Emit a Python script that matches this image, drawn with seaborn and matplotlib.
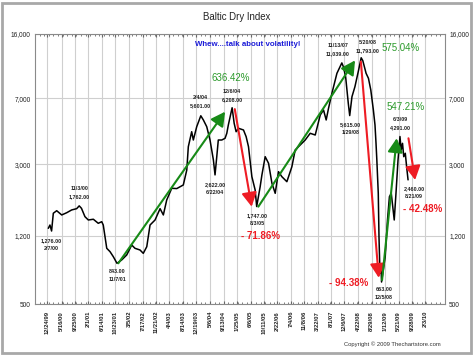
import pandas as pd
import matplotlib.pyplot as plt
import matplotlib.dates as mdates
import matplotlib.ticker as mticker
from matplotlib.patches import Rectangle
import seaborn as sns

# 1. DATA
dates = ['2000-01-06', '2000-01-22', '2000-02-07', '2000-02-24', '2000-03-28', '2000-05-16',
         '2000-07-04', '2000-08-21', '2000-10-09', '2000-11-03', '2000-11-25', '2000-12-29',
         '2001-01-31', '2001-03-21', '2001-05-08', '2001-06-11', '2001-06-26', '2001-07-13',
         '2001-07-30', '2001-08-31', '2001-10-02', '2001-11-07', '2001-12-23', '2002-02-10',
         '2002-03-31', '2002-05-02', '2002-06-20', '2002-07-22', '2002-08-25', '2002-09-26',
         '2002-11-14', '2003-01-02', '2003-02-03', '2003-03-08', '2003-04-26', '2003-06-14',
         '2003-08-17', '2003-09-20', '2003-10-05', '2003-11-07', '2003-11-23', '2003-12-26',
         '2004-02-04', '2004-02-29', '2004-04-02', '2004-05-04', '2004-06-06', '2004-06-22',
         '2004-07-09', '2004-07-24', '2004-08-27', '2004-09-28', '2004-10-15', '2004-10-30',
         '2004-12-06', '2004-12-26', '2005-01-14', '2005-02-06', '2005-03-27', '2005-04-22',
         '2005-05-15', '2005-06-17', '2005-07-19', '2005-08-03', '2005-09-06', '2005-09-23',
         '2005-10-25', '2005-11-27', '2005-12-30', '2006-01-31', '2006-03-04', '2006-04-06',
         '2006-05-25', '2006-07-13', '2006-08-14', '2006-10-02', '2006-11-20', '2007-01-08',
         '2007-02-26', '2007-04-16', '2007-05-18', '2007-06-13', '2007-07-06', '2007-08-08',
         '2007-09-26', '2007-11-13', '2007-11-28', '2007-12-20', '2008-01-15', '2008-01-29',
         '2008-02-20', '2008-03-20', '2008-04-25', '2008-05-20', '2008-06-05', '2008-07-07',
         '2008-07-30', '2008-08-22', '2008-09-16', '2008-10-02', '2008-10-12', '2008-10-20',
         '2008-11-03', '2008-11-10', '2008-11-17', '2008-11-22', '2008-11-27', '2008-12-01',
         '2008-12-05', '2009-01-10', '2009-02-01', '2009-02-20', '2009-03-10', '2009-04-08',
         '2009-04-25', '2009-05-15', '2009-06-03', '2009-06-15', '2009-06-28', '2009-07-10',
         '2009-07-25', '2009-08-07', '2009-08-21']
values = [1321, 1378, 1276, 1603, 1656, 1568,
          1614, 1672, 1700, 1762, 1708, 1534,
          1470, 1484, 1409, 1438, 1378, 1187,
          1022, 979, 918, 843, 880, 938,
          1066, 1022, 1000, 958, 1043, 1378,
          1470, 1700, 1568, 1901, 2208, 2200,
          2304, 2792, 3765, 4565, 4104, 4867,
          5601, 5307, 4867, 4104, 3176, 2622,
          3313, 4104, 4104, 4195, 4473, 4976,
          6208, 5085, 4565, 4770, 4667, 4283,
          3765, 2563, 2161, 1747, 2254, 2619,
          3313, 3043, 2355, 2070, 2733, 2563,
          2403, 2914, 3610, 3848, 4104, 4473,
          4376, 5656, 6034, 5307, 6165, 7474,
          9658, 11039, 10515, 9248, 6574, 5615,
          7154, 8137, 10085, 11793, 11357, 9658,
          9061, 7798, 6034, 4976, 3933, 3176,
          2070, 1187, 843, 807, 742, 774,
          663, 918, 1470, 1983, 2070, 1470,
          2070, 3176, 4291, 3610, 3933, 3313,
          3461, 2914, 2460]

tick_dates = ['1999-12-24', '2000-05-16', '2000-09-25', '2001-02-01', '2001-06-14', '2001-10-23',
              '2002-03-05', '2002-07-17', '2002-11-21', '2003-04-04', '2003-08-14', '2003-12-19',
              '2004-05-06', '2004-09-13', '2005-01-25', '2005-06-06', '2005-10-11', '2006-02-22',
              '2006-07-04', '2006-11-08', '2007-03-22', '2007-08-01', '2007-12-06', '2008-04-22',
              '2008-08-29', '2009-01-12', '2009-05-21', '2009-09-28', '2010-02-03']
tick_labels = ['12/24/99', '5/16/00', '9/25/00', '2/1/01', '6/14/01', '10/23/01',
               '3/5/02', '7/17/02', '11/21/02', '4/4/03', '8/14/03', '12/19/03',
               '5/6/04', '9/13/04', '1/25/05', '6/6/05', '10/11/05', '2/22/06',
               '7/4/06', '11/8/06', '3/22/07', '8/1/07', '12/6/07', '4/22/08',
               '8/29/08', '1/12/09', '5/21/09', '9/28/09', '2/3/10']
y_ticks = [500, 1200, 3000, 7000, 16000]

# arrows: start / end of each move
arrow_from_dates = ['2001-11-20', '2005-01-01', '2005-08-19', '2008-05-17', '2008-12-10', '2009-08-25']
arrow_from_values = [843, 6100, 1744, 11220, 680, 4195]
arrow_to_dates = ['2004-09-28', '2005-06-15', '2008-03-21', '2008-11-08', '2009-05-02', '2009-10-29']
arrow_to_values = [5900, 1744, 11400, 700, 4195, 2457]
arrow_kinds = ['up', 'down', 'up', 'down', 'up', 'down']

pct_labels = ['636.42%', '- 71.86%', '575.04%', '- 94.38%', '547.21%', '- 42.48%']
point_labels = ['1,276.00\n2/7/00', '11/3/00\n1,762.00', '843.00\n11/7/01', '2/4/04\n5,601.00',
                '12/6/04\n6,208.00', '2,622.00\n6/22/04', '1,747.00\n8/3/05', '11/13/07\n11,039.00',
                '5/20/08\n11,793.00', '5,615.00\n1/29/08', '6/3/09\n4,291.00', '2,460.00\n8/21/09',
                '663.00\n12/5/08']

# layout (pixel centres in the 474x355 picture)
pct_xy = [(231, 78), (260.5, 236), (401, 48), (349, 283), (406, 107), (422.5, 209)]
point_xy = [(51.7, 244.7), (79.3, 192.3), (117.3, 275.8), (200, 101.5), (232, 95.5),
            (215, 188.3), (257.3, 219.2), (338, 49.7), (367.3, 46.3), (350.7, 128.3),
            (400.7, 123.7), (414, 192.5), (384, 293.3)]

GREEN_TXT = '#2b9a2b'
GREEN = '#178a17'
RED = '#ee1c24'
BLUE = '#1c1cd8'

W, H = 474, 355


def fxy(x, y):
    return x / W, 1 - y / H


# 2. STYLE
sns.set_style('white')
plt.rcParams['font.family'] = ['Liberation Sans', 'DejaVu Sans']

df = pd.DataFrame({'Date': pd.to_datetime(dates), 'BDI': values})

fig = plt.figure(figsize=(4.74, 3.55), dpi=100)
ax = fig.add_axes([35 / W, 1 - 304 / H, 410 / W, 270 / H])

sns.lineplot(data=df, x='Date', y='BDI', color='black', lw=1.1, ax=ax)

# 3. AXES
ax.set_yscale('log')
ax.set_ylim(500, 16000)
ax.set_xlim(pd.Timestamp('1999-08-29'), pd.Timestamp('2010-08-17'))
ax.yaxis.set_major_locator(mticker.FixedLocator(y_ticks))
ax.yaxis.set_minor_locator(mticker.NullLocator())
ax.yaxis.set_major_formatter(mticker.FuncFormatter(lambda v, p: f'{int(v):,}'))
ax.xaxis.set_major_locator(mticker.FixedLocator(mdates.date2num(pd.to_datetime(tick_dates))))
ax.xaxis.set_major_formatter(mticker.FixedFormatter(tick_labels))
ax.xaxis.set_minor_locator(mdates.DayLocator(interval=45))
ax.set_xlabel('')
ax.set_ylabel('')

ax.grid(True, which='major', color='#cfcfcf', lw=0.8)
ax.tick_params(axis='x', which='major', labelsize=4.2, rotation=90, length=2.5,
               top=True, bottom=True, direction='in', color='#666666', pad=5, labelcolor='#222222')
for t in ax.get_xticklabels():
    t.set_fontweight('bold')
ax.tick_params(axis='x', which='minor', length=1.5, top=True, bottom=True,
               direction='in', color='#666666')
ax.tick_params(axis='y', which='major', labelsize=4.7, length=0, left=True, right=True,
               labelleft=True, labelright=True, pad=3, labelcolor='#222222')
for s in ax.spines.values():
    s.set_color('#8a8a8a')
    s.set_linewidth(0.8)

# 4. ARROWS
for x0, y0, x1, y1, k in zip(arrow_from_dates, arrow_from_values, arrow_to_dates,
                             arrow_to_values, arrow_kinds):
    c = GREEN if k == 'up' else RED
    ax.annotate('', xy=(pd.Timestamp(x1), y1), xytext=(pd.Timestamp(x0), y0),
                arrowprops=dict(arrowstyle='-|>,head_length=0.7,head_width=0.38',
                                color=c, lw=1.5, mutation_scale=12, shrinkA=0, shrinkB=0))

# 5. TEXT
fig.text(*fxy(236.5, 17), 'Baltic Dry Index', ha='center', va='center', fontsize=6.9, color='#222222')
fig.text(*fxy(248, 44), 'Whew....talk about volatility!', ha='center', va='center',
         fontsize=5.7, fontweight='bold', color=BLUE)

for lab, (x, y) in zip(pct_labels, pct_xy):
    red = lab.startswith('-')
    fig.text(*fxy(x, y), lab, ha='center', va='center', fontsize=7,
             fontweight='bold' if red else 'normal', color=RED if red else GREEN_TXT)

for lab, (x, y) in zip(point_labels, point_xy):
    fig.text(*fxy(x, y), lab, ha='center', va='center', fontsize=3.9, color='#222222',
             fontweight='bold', linespacing=1.75)

fig.text(*fxy(441, 344), 'Copyright \u00a9 2009 Thechartstore.com', ha='right', va='center',
         fontsize=4.2, color='#333333')

fig.patches.append(Rectangle((2 / W, 2 / H), 1 - 5 / W, 1 - 5 / H, transform=fig.transFigure,
                             fill=False, edgecolor='#a8a8a8', lw=2))

plt.savefig('out.png', dpi=100)
print("saved")
